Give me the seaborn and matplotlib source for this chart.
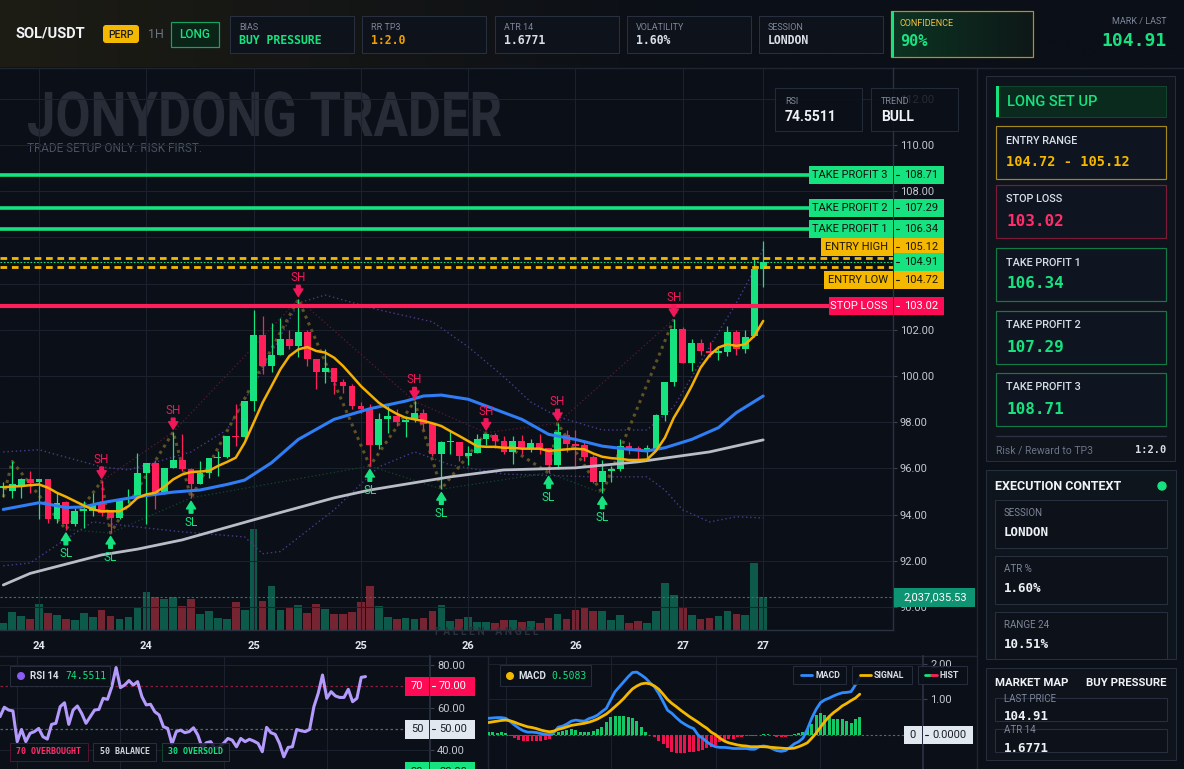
import numpy as np
import pandas as pd
import matplotlib
matplotlib.use("Agg")
import matplotlib.pyplot as plt
import seaborn as sns
from matplotlib.patches import Rectangle, FancyBboxPatch, Circle, PathPatch
from matplotlib.textpath import TextPath
from matplotlib.font_manager import FontProperties
from matplotlib.transforms import Affine2D

W, H, DPI = 1184, 769, 100

# ---------------- data: SOL/USDT 1H candles (oldest first) ----------------
opens = [95.15, 95.02, 95.23, 95.55, 95.42, 95.52, 93.81, 94.55, 93.57, 94.17,
         94.17, 94.55, 94.14, 93.86, 94.65, 94.79, 95.80, 96.24, 94.94, 96.02,
         96.38, 95.98, 95.30, 95.80, 96.45, 96.50, 97.42, 97.35, 98.91, 101.76,
         100.43, 100.90, 101.60, 101.30, 101.88, 100.75, 100.17, 100.36, 99.74, 99.56,
         98.70, 98.55, 97.03, 98.15, 98.26, 98.00, 98.10, 98.40, 97.90, 96.60,
         97.13, 97.15, 96.55, 96.65, 97.25, 97.45, 97.20, 96.70, 97.20, 96.90,
         97.10, 96.90, 96.15, 97.45, 97.05, 97.00, 96.50, 95.40, 95.90, 95.95,
         96.97, 96.85, 96.80, 96.85, 98.30, 99.75, 102.03, 100.56, 101.43, 101.10,
         101.00, 101.05, 101.90, 101.18, 101.73, 104.63]
highs = [95.40, 96.30, 95.60, 95.88, 95.55, 95.55, 94.98, 94.58, 94.29, 94.60,
         94.94, 95.45, 94.16, 94.72, 95.10, 96.67, 96.24, 96.38, 96.02, 97.57,
         97.50, 96.00, 96.30, 96.45, 96.75, 97.42, 98.77, 98.91, 102.86, 102.60,
         102.30, 102.50, 102.00, 103.32, 102.00, 100.75, 101.15, 100.36, 99.85, 99.63,
         98.85, 98.77, 98.41, 98.70, 98.55, 98.26, 98.90, 98.55, 97.90, 97.17,
         97.60, 97.15, 96.95, 97.50, 97.54, 97.52, 97.40, 97.40, 97.45, 97.27,
         97.50, 96.90, 97.95, 97.65, 97.65, 97.20, 96.57, 96.34, 96.10, 97.25,
         97.15, 96.95, 97.00, 98.35, 99.75, 102.45, 102.10, 101.60, 101.60, 101.47,
         101.30, 102.15, 102.00, 102.00, 105.06, 105.84]
lows = [94.75, 94.70, 94.70, 94.94, 93.80, 93.64, 93.64, 93.35, 93.50, 93.40,
        93.93, 93.93, 93.20, 93.80, 94.50, 94.79, 93.57, 94.22, 94.87, 96.02,
        95.90, 94.72, 95.30, 95.60, 95.65, 96.45, 96.96, 97.20, 98.48, 100.07,
        100.17, 100.90, 101.15, 100.82, 100.43, 99.42, 99.71, 99.22, 99.27, 98.55,
        98.40, 96.10, 96.82, 97.54, 97.85, 97.35, 98.00, 97.68, 96.52, 95.10,
        96.60, 96.30, 96.15, 96.65, 97.00, 96.90, 96.60, 96.20, 96.60, 96.70,
        96.60, 95.80, 95.97, 96.70, 96.10, 96.30, 95.35, 94.92, 95.40, 95.90,
        96.60, 96.40, 96.35, 96.85, 98.05, 99.57, 100.56, 100.20, 100.90, 100.80,
        100.70, 100.85, 100.90, 101.00, 101.70, 103.85]
closes = [95.25, 95.30, 95.55, 95.37, 95.52, 93.81, 94.50, 93.57, 94.17, 94.19,
          94.43, 94.07, 93.86, 94.65, 94.72, 95.80, 96.24, 94.94, 96.02, 96.38,
          95.95, 95.30, 95.80, 96.45, 96.50, 97.42, 97.35, 98.91, 101.76, 100.43,
          100.90, 101.60, 101.30, 101.88, 100.75, 100.17, 100.36, 99.74, 99.56, 98.70,
          98.55, 97.03, 98.15, 98.26, 98.00, 98.10, 98.40, 97.90, 96.60, 97.13,
          97.15, 96.55, 96.65, 97.25, 97.50, 97.20, 96.70, 97.20, 96.90, 97.10,
          96.90, 96.15, 97.57, 97.05, 96.98, 96.50, 95.40, 95.90, 95.95, 96.97,
          96.85, 96.80, 96.90, 98.30, 99.75, 102.03, 100.56, 101.43, 101.10, 101.00,
          101.05, 101.90, 101.18, 101.70, 104.63, 104.91]
volume_m = [0.45, 1.13, 0.86, 0.68, 1.60, 1.07, 0.93, 0.68, 0.62, 1.07,
            0.82, 1.25, 0.88, 0.68, 0.82, 1.42, 2.35, 2.04, 1.93, 2.04,
            1.48, 1.93, 1.01, 1.19, 0.74, 0.68, 1.75, 1.25, 6.23, 1.79,
            2.73, 1.25, 1.36, 1.54, 1.07, 1.62, 1.30, 1.01, 1.01, 1.13,
            1.75, 2.73, 1.50, 0.80, 0.68, 0.72, 0.68, 0.74, 1.17, 1.54,
            0.57, 0.68, 0.80, 0.51, 0.49, 0.43, 0.62, 0.62, 0.49, 0.56,
            0.43, 0.74, 0.99, 0.68, 1.23, 1.36, 1.17, 1.17, 0.62, 0.93,
            0.43, 0.56, 0.43, 1.17, 2.90, 2.16, 1.42, 0.93, 0.68, 0.74,
            0.86, 1.17, 0.99, 0.93, 4.13, 2.037]
last_volume = 2037035.53

# moving averages / bands
ema_fast = [95.18, 95.21, 95.23, 95.27, 95.30, 95.16, 94.94, 94.77, 94.58, 94.39,
            94.22, 94.14, 94.14, 94.14, 94.36, 94.72, 94.87, 94.94, 95.20, 95.52,
            95.73, 95.84, 95.86, 95.89, 96.10, 96.27, 96.46, 97.11, 97.97, 98.84,
            99.56, 100.29, 100.86, 101.15, 101.25, 101.08, 101.01, 100.79, 100.43, 100.00,
            99.56, 99.20, 98.84, 98.58, 98.36, 98.19, 98.12, 98.05, 97.95, 97.83,
            97.61, 97.40, 97.18, 96.96, 96.93, 96.93, 96.89, 96.89, 96.85, 96.85,
            96.85, 96.75, 96.79, 96.82, 96.85, 96.82, 96.64, 96.50, 96.44, 96.41,
            96.36, 96.36, 96.38, 96.75, 97.32, 98.19, 98.84, 99.56, 100.36, 100.89,
            101.23, 101.37, 101.30, 101.37, 101.73, 102.38]
ema_mid_idx = [0, 4, 5, 7, 9, 11, 15, 17, 19, 22, 25, 27, 30, 33, 37, 41, 45, 47,
               49, 52, 54, 58, 61, 64, 67, 70, 72, 74, 77, 80, 82, 85]
ema_mid = [94.22, 94.51, 94.45, 94.30, 94.33, 94.51, 94.77, 94.87, 94.97, 95.06,
           95.30, 95.49, 96.24, 97.25, 98.12, 98.58, 98.91, 99.13, 99.17, 98.99,
           98.70, 98.12, 97.47, 97.25, 96.96, 96.82, 96.75, 96.89, 97.25, 97.76,
           98.41, 99.13]
ema_slow_idx = [0, 3, 11, 15, 20, 28, 37, 41, 50, 56, 64, 71, 79, 85]
ema_slow = [90.95, 91.45, 92.25, 92.50, 92.90, 93.77, 94.72, 95.06, 95.63, 95.93,
            96.02, 96.28, 96.71, 97.23]
bb_up_idx = [0, 4, 11, 14, 21, 25, 29, 33, 36, 42, 48, 52, 56, 59, 62, 67, 72, 75,
             79, 82, 84, 85]
bb_up = [96.71, 96.80, 96.06, 95.93, 96.71, 97.66, 100.26, 103.16, 103.50, 102.86,
         102.34, 101.26, 99.96, 98.87, 98.23, 97.66, 97.66, 98.66, 101.26, 103.16,
         104.59, 105.54]
bb_lo_idx = [0, 3, 6, 10, 15, 20, 27, 29, 31, 34, 37, 42, 46, 50, 56, 66, 72, 74,
             76, 79, 82, 85]
bb_lo = [91.78, 91.90, 92.68, 93.68, 93.46, 93.25, 93.03, 92.30, 92.40, 93.30,
         94.20, 96.06, 96.71, 96.15, 95.75, 95.63, 95.63, 95.06, 94.20, 93.68,
         93.90, 93.85]

# swing structure
sh_idx = [11, 19, 33, 46, 54, 62, 75]
sl_idx = [7, 12, 21, 41, 49, 61, 67]
zz_idx = [0, 1, 7, 11, 12, 19, 21, 33, 41, 46, 49, 54, 61, 62, 67, 75]

# oscillators
rsi = [55.8, 60.2, 58.9, 58.5, 44.1, 49.8, 44.1, 48.0, 48.8, 50.3,
       46.4, 45.3, 52.2, 52.7, 60.5, 62.3, 52.2, 58.9, 60.8, 57.3,
       52.7, 55.8, 58.9, 59.2, 64.4, 63.9, 69.8, 78.8, 69.4, 70.6,
       72.7, 70.6, 72.2, 65.2, 61.3, 61.6, 58.1, 56.6, 51.1, 50.3,
       43.0, 48.8, 49.5, 48.3, 48.8, 50.6, 47.2, 41.4, 43.6, 44.1,
       40.9, 41.7, 43.3, 45.6, 44.8, 41.7, 45.6, 44.1, 45.2, 44.4,
       43.3, 39.4, 50.8, 48.3, 47.5, 43.3, 37.0, 41.4, 41.7, 49.8,
       49.2, 48.8, 49.8, 60.5, 66.7, 75.3, 64.4, 67.5, 65.5, 64.8,
       64.8, 68.6, 62.8, 64.4, 74.2, 74.55]
macd = [0.47, 0.48, 0.49, 0.49, 0.47, 0.38, 0.28, 0.19, 0.12, 0.08,
        0.08, 0.07, 0.04, 0.02, 0.01, 0.07, 0.22, 0.25, 0.31, 0.39,
        0.42, 0.40, 0.39, 0.46, 0.50, 0.56, 0.66, 0.75, 0.99, 1.22,
        1.36, 1.50, 1.64, 1.76, 1.77, 1.69, 1.60, 1.47, 1.36, 1.17,
        0.94, 0.70, 0.61, 0.49, 0.38, 0.30, 0.23, 0.18, 0.00, -0.09,
        -0.19, -0.28, -0.33, -0.35, -0.35, -0.36, -0.38, -0.38, -0.38, -0.38,
        -0.40, -0.40, -0.33, -0.31, -0.33, -0.39, -0.44, -0.46, -0.44, -0.35,
        -0.25, -0.19, -0.09, 0.16, 0.47, 0.72, 0.91, 0.99, 1.04, 1.10,
        1.15, 1.19, 1.20, 1.22, 1.41, 1.64]
signal = [0.35, 0.37, 0.39, 0.41, 0.42, 0.40, 0.36, 0.31, 0.27, 0.23,
          0.21, 0.18, 0.14, 0.11, 0.09, 0.11, 0.16, 0.19, 0.23, 0.27,
          0.29, 0.31, 0.33, 0.36, 0.40, 0.45, 0.52, 0.59, 0.69, 0.80,
          0.91, 1.03, 1.17, 1.30, 1.38, 1.44, 1.46, 1.44, 1.38, 1.29,
          1.15, 1.00, 0.89, 0.80, 0.70, 0.61, 0.52, 0.44, 0.36, 0.27,
          0.19, 0.08, 0.01, -0.09, -0.17, -0.22, -0.25, -0.28, -0.30, -0.31,
          -0.33, -0.33, -0.33, -0.33, -0.34, -0.35, -0.36, -0.37, -0.38, -0.38,
          -0.37, -0.33, -0.28, -0.22, -0.09, 0.05, 0.22, 0.38, 0.52, 0.63,
          0.72, 0.82, 0.89, 0.97, 1.04, 1.15]
hist = [0.075, 0.085, 0.066, 0.075, 0.056, -0.03, -0.09, -0.14, -0.17, -0.18,
        -0.18, -0.17, -0.17, -0.14, -0.10, 0.03, 0.09, 0.12, 0.15, 0.16,
        0.14, 0.09, 0.085, 0.09, 0.12, 0.16, 0.22, 0.36, 0.52, 0.54,
        0.54, 0.54, 0.52, 0.47, 0.38, 0.22, 0.09, -0.01, -0.07, -0.16,
        -0.25, -0.38, -0.48, -0.50, -0.50, -0.50, -0.49, -0.47, -0.44, -0.42,
        -0.38, -0.33, -0.29, -0.19, -0.14, -0.12, -0.10, -0.07, -0.05, -0.03,
        -0.03, -0.03, 0.01, 0.02, 0.02, 0.01, -0.07, -0.07, -0.07, -0.03,
        0.02, 0.06, 0.085, 0.17, 0.31, 0.56, 0.61, 0.57, 0.50, 0.46,
        0.45, 0.44, 0.38, 0.35, 0.45, 0.52]
rsi_display = "74.5511"
macd_display = "0.5083"

# trade plan levels
last_price = 104.91
entry_low, entry_high = 104.72, 105.12
stop_loss = 103.02
tp_levels = [106.34, 107.29, 108.71]

price_ticks = [90, 92, 94, 96, 98, 100, 102, 104, 106, 108, 110, 112]
hidden_ticks = [104, 106]          # covered by the level tags
x_tick_idx = [4, 16, 28, 40, 52, 64, 76, 85]
x_tick_labels = ["24", "24", "25", "25", "26", "26", "27", "27"]
osc_grid_idx = [4, 28, 52, 76]

header_cards = [("BIAS", "BUY PRESSURE"), ("RR TP3", "1:2.0"), ("ATR 14", "1.6771"),
                ("VOLATILITY", "1.60%"), ("SESSION", "LONDON")]
confidence = "90%"
exec_rows = [("SESSION", "LONDON"), ("ATR %", "1.60%"), ("RANGE 24", "10.51%")]
market_rows = [("LAST PRICE", "104.91"), ("ATR 14", "1.6771")]
risk_reward = "1:2.0"

# ---------------- style ----------------
BG = "#0b0f17"
CARD = "#0e131c"
BORDER = "#262d3b"
GRID = "#1b212d"
GREEN = "#16e27f"
RED = "#ff1f5a"
YEL = "#f5b800"
TXT = "#d9dee7"
MUTED = "#7d869a"
DARK = "#0c1410"

sns.set_theme(style="dark")
UI = ["Roboto", "DejaVu Sans"]
NARROW = ["Liberation Sans Narrow", "Roboto", "DejaVu Sans"]
MONO = ["DejaVu Sans Mono", "DejaVu Sans"]
plt.rcParams["font.family"] = UI
plt.rcParams["axes.unicode_minus"] = False

fig = plt.figure(figsize=(W / DPI, H / DPI), dpi=DPI)
fig.patch.set_facecolor(BG)


def frac(x0, y0, x1, y1):
    return [x0 / W, 1 - y1 / H, (x1 - x0) / W, (y1 - y0) / H]


def pixel_axes(z):
    a = fig.add_axes([0, 0, 1, 1], zorder=z)
    a.axis("off")
    return a


def fix_pixel(a):
    a.set_xlim(0, W)
    a.set_ylim(H, 0)


# ---------------- background layer ----------------
bg = pixel_axes(0)
g = np.clip(np.linspace(0, 1, 600) * 1.7, 0, 1)
c_left = np.array([29, 28, 20]) / 255
c_right = np.array([11, 15, 23]) / 255
img = c_left[None, :] * (1 - g[:, None]) + c_right[None, :] * g[:, None]
bg.imshow(img[None, :, :], extent=(0, W, 67, 0), aspect="auto", zorder=0)
fix_pixel(bg)
bg.plot([0, W], [67.5, 67.5], color="#1f2531", lw=1)
bg.plot([0, 977], [656, 656], color="#1f2531", lw=1)
bg.plot([977, 977], [68, H], color="#1f2531", lw=1)
bg.plot([488, 488], [656, H], color="#1f2531", lw=1)

# watermark, squeezed to the condensed look of the original
wm = TextPath((0, 0), "JONYDONG TRADER", size=62,
              prop=FontProperties(family=NARROW, weight="bold"))
wm_w = wm.get_extents().width
wm = wm.transformed(Affine2D().scale(473 / wm_w, -1).translate(27, 136))
bg.add_patch(PathPatch(wm, facecolor="#272c37", edgecolor="none", zorder=1))
bg.text(27, 149, "TRADE SETUP ONLY. RISK FIRST.", fontsize=8.5, color="#4a5161",
        family=NARROW, va="center")

# ---------------- main price chart ----------------
df = pd.DataFrame({"o": opens, "h": highs, "l": lows, "c": closes, "v": volume_m})
df["i"] = np.arange(len(df))
df["up"] = df["c"] >= df["o"]
X_LO, X_HI = -0.37, 99.52

vax = fig.add_axes(frac(0, 68, 893, 630), zorder=2)
vax.axis("off")
vax.bar(df["i"], df["v"], width=0.86, linewidth=0,
        color=np.where(df["up"], "#0d5a4a", "#752532"))
vax.axhline(last_volume / 1e6, color="#108a6a", lw=0.8, ls=(0, (2, 2)))
vax.set_xlim(X_LO, X_HI)
vax.set_ylim(0, 34.7)

ax = fig.add_axes(frac(0, 68, 893, 630), zorder=3)
ax.set_facecolor("none")
ax.set_xlim(X_LO, X_HI)
ax.set_ylim(89.0, 113.33)

ccol = np.where(df["up"], GREEN, RED)
ax.vlines(df["i"], df["l"], df["h"], colors=ccol, lw=0.9, zorder=4)
body = (df["c"] - df["o"]).abs().clip(lower=0.06)
ax.bar(df["i"], body, bottom=np.minimum(df["o"], df["c"]), width=0.76,
       color=ccol, linewidth=0, zorder=5)

dot = (0, (1, 2))
sns.lineplot(x=bb_up_idx, y=bb_up, ax=ax, color="#4a3a8e", lw=1.0, linestyle=dot, zorder=3)
sns.lineplot(x=bb_lo_idx, y=bb_lo, ax=ax, color="#4a3a8e", lw=1.0, linestyle=dot, zorder=3)
zz_val = [lows[i] if k % 2 == 0 else highs[i] for k, i in enumerate(zz_idx)]
sns.lineplot(x=zz_idx, y=zz_val, ax=ax, color="#5e5125", lw=2.2,
             linestyle=(0, (1, 1.4)), zorder=3, sort=False)
sns.lineplot(x=sh_idx, y=[highs[i] for i in sh_idx], ax=ax, color="#5a1b31",
             lw=0.9, linestyle=dot, zorder=3)
sns.lineplot(x=sl_idx, y=[lows[i] for i in sl_idx], ax=ax, color="#14452f",
             lw=0.9, linestyle=dot, zorder=3)
sns.lineplot(x=ema_slow_idx, y=ema_slow, ax=ax, color="#b8bdc7", lw=2.0, zorder=6)
sns.lineplot(x=ema_mid_idx, y=ema_mid, ax=ax, color="#2f7ef5", lw=2.2, zorder=6)
sns.lineplot(x=df["i"], y=ema_fast, ax=ax, color="#f3b000", lw=1.8, zorder=6)

# trade levels
for tp in tp_levels:
    ax.axhline(tp, xmin=0, xmax=809 / 893, color=GREEN, lw=2.6, zorder=7)
ax.axhline(stop_loss, xmin=0, xmax=829 / 893, color=RED, lw=3.0, zorder=7)
for lv in (entry_low, entry_high):
    ax.axhline(lv, color=YEL, lw=2.0, dashes=(2.4, 1.7), zorder=7)
ax.axhline(last_price, color=GREEN, lw=0.8, ls=(0, (1.5, 1.5)), zorder=7)

# swing markers
arrow = "simple,head_length=0.45,head_width=0.55,tail_width=0.22"
for i in sh_idx:
    ax.annotate("", xy=(i, highs[i]), xytext=(0, 10), textcoords="offset points",
                arrowprops=dict(arrowstyle=arrow, color="#f0185a", shrinkA=0, shrinkB=2),
                zorder=8)
    ax.annotate("SH", xy=(i, highs[i]), xytext=(0, 15.5), textcoords="offset points",
                ha="center", va="center", color="#f0185a", fontsize=8.5, family=NARROW, zorder=8)
for i in sl_idx:
    ax.annotate("", xy=(i, lows[i]), xytext=(0, -11), textcoords="offset points",
                arrowprops=dict(arrowstyle=arrow, color=GREEN, shrinkA=0, shrinkB=2.5),
                zorder=8)
    ax.annotate("SL", xy=(i, lows[i]), xytext=(0, -17.5), textcoords="offset points",
                ha="center", va="center", color=GREEN, fontsize=8.5, family=NARROW, zorder=8)

ax.set_yticks(price_ticks,
              labels=["" if t in hidden_ticks else f"{t:.2f}" for t in price_ticks])
ax.yaxis.tick_right()
ax.set_xticks(x_tick_idx, labels=x_tick_labels)
ax.tick_params(axis="y", colors="#3a4252", labelcolor="#c3c8d1", labelsize=8,
               length=3, width=0.8, pad=2)
ax.tick_params(axis="x", length=0, labelcolor="#e2e6ed", labelsize=8, pad=8)
for lab in ax.get_xticklabels():
    lab.set_fontweight("bold")
ax.grid(True, color=GRID, lw=0.8)
for s in ("left", "top"):
    ax.spines[s].set_visible(False)
for s in ("right", "bottom"):
    ax.spines[s].set_color("#2a3142")
    ax.spines[s].set_linewidth(1)
ax.set_xlabel("")
ax.set_ylabel("")

# ---------------- RSI panel ----------------
rax = fig.add_axes(frac(0, 656, 430, 769), zorder=3)
rax.set_facecolor("none")
sns.lineplot(x=np.arange(len(rsi)), y=rsi, ax=rax, color="#b39afc", lw=2.2, zorder=4)
rax.axhline(70, color="#8e1a3c", lw=0.9, ls=(0, (2, 2)))
rax.axhline(50, color="#5d6575", lw=0.9, ls=(0, (2, 2)))
rax.set_xlim(0, 100)
rax.set_ylim(31.3, 84.2)
rax.set_yticks([40, 60, 80], labels=["40.00", "60.00", "80.00"])
rax.yaxis.tick_right()
rax.set_xticks(osc_grid_idx, labels=[])

# ---------------- MACD panel ----------------
mx = fig.add_axes(frac(488, 656, 923, 769), zorder=3)
mx.set_facecolor("none")
hx = np.arange(len(hist))
mx.bar(hx, hist, width=0.68, linewidth=0,
       color=np.where(np.array(hist) >= 0, "#14c965", "#f0124f"), zorder=3)
sns.lineplot(x=hx, y=macd, ax=mx, color="#2f8cff", lw=2.0, zorder=4)
sns.lineplot(x=hx, y=signal, ax=mx, color="#f5b800", lw=2.0, zorder=4)
mx.axhline(0, color="#5d6575", lw=0.8, ls=(0, (2, 2)))
mx.set_xlim(-0.07, 99.47)
mx.set_ylim(-0.958, 2.225)
mx.set_yticks([1, 2], labels=["1.00", "2.00"])
mx.yaxis.tick_right()
mx.set_xticks(osc_grid_idx, labels=[])

for a in (rax, mx):
    a.grid(True, color=GRID, lw=0.8)
    a.tick_params(axis="y", colors="#3a4252", labelcolor="#c3c8d1", labelsize=8,
                  length=3, width=0.8, pad=2)
    a.tick_params(axis="x", length=0)
    for s in ("left", "top", "bottom"):
        a.spines[s].set_visible(False)
    a.spines["right"].set_color("#2a3142")
    a.set_xlabel("")
    a.set_ylabel("")

# ---------------- overlay (UI) ----------------
ov = pixel_axes(10)


def py(axis, v):
    return H - axis.transData.transform((0, v))[1]


def box(x0, y0, x1, y1, fc=CARD, ec=BORDER, lw=1.0, alpha=1.0, z=2):
    ov.add_patch(Rectangle((x0, y0), x1 - x0, y1 - y0, facecolor=fc, edgecolor=ec,
                           linewidth=lw * 0.72, alpha=alpha, zorder=z))


def txt(x, y, s, size=8, color=TXT, weight="normal", ha="left", family=None, z=4):
    ov.text(x, y, s, fontsize=size, color=color, fontweight=weight, ha=ha,
            va="center", family=family or UI, zorder=z)


# header
txt(16, 34, "SOL/USDT", size=10.5, weight="bold", color="#f2f4f8")
ov.add_patch(FancyBboxPatch((103, 25), 36, 18, boxstyle="round,pad=0,rounding_size=3",
                            facecolor=YEL, edgecolor="none", zorder=2))
txt(121, 34.5, "PERP", size=7.5, color="#1b1d22", ha="center", weight="medium")
txt(148, 34.5, "1H", size=9, color="#6b7385")
box(171, 22, 219, 47, fc="#0a2418", ec="#16a35f", lw=1.2)
txt(195, 34.5, "LONG", size=8.5, color=GREEN, ha="center", weight="medium")
value_colors = [GREEN, "#f0a000", TXT, TXT, TXT]
for k, ((lab, val), vc) in enumerate(zip(header_cards, value_colors)):
    x0 = 230 + k * 132.3
    box(x0, 16, x0 + 124, 53, fc="#0d121b", ec="#283040")
    txt(x0 + 9, 27, lab, size=6.5, color=MUTED)
    txt(x0 + 9, 41, val, size=8.3, color=vc, weight="bold", family=MONO)
gx = np.linspace(0, 1, 200)
cg = np.array([12, 52, 34]) / 255 * (1 - gx[:, None]) + np.array([14, 24, 24]) / 255 * gx[:, None]
ov.imshow(cg[None, :, :], extent=(891, 1033, 57, 11), aspect="auto", zorder=1)
box(891, 11, 1033, 57, fc="none", ec="#b8901a", lw=1.2)
box(891, 11, 894, 57, fc=GREEN, ec="none")
txt(900, 23, "CONFIDENCE", size=6.5, color="#f3c33c")
txt(900, 41, confidence, size=11, color=GREEN, weight="bold", family=MONO)
txt(1167, 22, "MARK / LAST", size=6.5, color=MUTED, ha="right")
txt(1167, 41, f"{last_price:.2f}", size=13, color=GREEN, weight="bold", family=MONO, ha="right")

txt(487, 632, "F A L L E N    A N G E L", size=7.5, color="#2a303b", ha="center", weight="bold", z=1)

# RSI / TREND chips
for x0, lab, val in [(775, "RSI", rsi_display), (871, "TREND", "BULL")]:
    box(x0, 88, x0 + 87, 131, fc=BG, ec="#283040", alpha=0.85)
    txt(x0 + 10, 101, lab, size=6.5, color=MUTED)
    txt(x0 + 10, 117, val, size=10, weight="bold", color="#eef1f5")


def price_tag(label, value, yc, left, fc, tc):
    if label:
        box(left, yc - 9, 892.5, yc + 9, fc=fc, ec="none", z=5)
        txt(888, yc, label, size=8, color=tc, ha="right", family=NARROW, z=6)
    box(893.5, yc - 9, 944, yc + 9, fc=fc, ec="none", z=5)
    ov.plot([896, 899], [yc, yc], color=tc, lw=0.8, zorder=6)
    txt(904, yc, value, size=8, color=tc, z=6)


tags = [("TAKE PROFIT 3", tp_levels[2], 809, GREEN, DARK, 0),
        ("TAKE PROFIT 2", tp_levels[1], 809, GREEN, DARK, 0),
        ("TAKE PROFIT 1", tp_levels[0], 809, GREEN, DARK, 0),
        ("ENTRY HIGH", entry_high, 821, YEL, "#1d1600", -10.5),
        (None, last_price, 893, GREEN, DARK, 0),
        ("ENTRY LOW", entry_low, 824, YEL, "#1d1600", 13.5),
        ("STOP LOSS", stop_loss, 829, "#ff0a54", "white", 0)]
for lab, val, left, fc, tc, dy in tags:
    price_tag(lab, f"{val:.2f}", py(ax, val) + dy, left, fc, tc)

vy = py(vax, last_volume / 1e6)
box(893.5, vy - 9.5, 975, vy + 9.5, fc="#0e9472", ec="none", z=5)
txt(903, vy, f"{last_volume:,.2f}", size=8, color="white", z=6)

# RSI decorations
box(10, 666, 110, 686, fc=BG, ec="#283040", alpha=0.9)
ov.add_patch(Circle((21, 676), 3.3, color="#8b5cf6", zorder=4))
txt(30, 676, "RSI 14", size=7, weight="bold")
txt(65, 676, rsi_display, size=7, color=GREEN, family=MONO)
for x0, x1, lab, ec, tc in [(10, 88, "70 OVERBOUGHT", "#5a1830", "#ff2d6a"),
                             (93, 156, "50 BALANCE", "#2c3342", "#d0d5de"),
                             (162, 229, "30 OVERSOLD", "#10502f", GREEN)]:
    box(x0, 743, x1, 761, fc=BG, ec=ec, alpha=0.85)
    txt((x0 + x1) / 2, 752, lab, size=6, color=tc, ha="center", family=MONO, weight="bold")
for lv, fc, tc in [(70, "#ff0a54", "white"), (50, "#e1e8f0", "#1a1d24"), (30, GREEN, DARK)]:
    yc = py(rax, lv)
    box(405, yc - 9.5, 429, yc + 9.5, fc=fc, ec="none", z=5)
    box(430, yc - 9.5, 475, yc + 9.5, fc=fc, ec="none", z=5)
    txt(417, yc, f"{lv}", size=8, color=tc, ha="center", z=6)
    ov.plot([432, 435], [yc, yc], color=tc, lw=0.8, zorder=6)
    txt(439, yc, f"{lv:.2f}", size=8, color=tc, z=6)

# MACD decorations
box(500, 665, 591, 686, fc=BG, ec="#283040", alpha=0.9)
ov.add_patch(Circle((510, 676), 3.3, color=YEL, zorder=4))
txt(518, 676, "MACD", size=7, weight="bold")
txt(551, 676, macd_display, size=7, color=GREEN, family=MONO)
for x0, x1, lab, lc in [(793, 846, "MACD", "#2f8cff"), (852, 912, "SIGNAL", YEL),
                        (918, 967, "HIST", None)]:
    box(x0, 666, x1, 684, fc=BG, ec="#283040", alpha=0.9)
    if lc:
        ov.plot([x0 + 8, x0 + 19], [675, 675], color=lc, lw=2, zorder=4)
    else:
        ov.plot([x0 + 7, x0 + 13], [675, 675], color=GREEN, lw=2, zorder=4)
        ov.plot([x0 + 13, x0 + 19], [675, 675], color=RED, lw=2, zorder=4)
    txt(x0 + 22, 675, lab, size=6.3, weight="bold")
yc = py(mx, 0)
box(904, yc - 9, 922, yc + 9, fc="#e1e8f0", ec="none", z=5)
box(923, yc - 9, 973, yc + 9, fc="#e1e8f0", ec="none", z=5)
txt(913, yc, "0", size=8, color="#1a1d24", ha="center", z=6)
ov.plot([925, 928], [yc, yc], color="#1a1d24", lw=0.8, zorder=6)
txt(932, yc, f"{0:.4f}", size=8, color="#1a1d24", z=6)

# right column: long set up
box(986, 76, 1175, 461, fc=CARD, ec=BORDER)
box(996, 86, 1166, 117, fc="#0b2a1e", ec="#12462f")
box(996, 86, 999, 117, fc=GREEN, ec="none", z=3)
txt(1007, 102, "LONG SET UP", size=10.5, color=GREEN, weight="medium")
setup_cards = [("ENTRY RANGE", f"{entry_low:.2f} - {entry_high:.2f}", YEL, "#a3861c", 9.8),
               ("STOP LOSS", f"{stop_loss:.2f}", "#ff2d6a", "#7c1a38", 11.5),
               ("TAKE PROFIT 1", f"{tp_levels[0]:.2f}", GREEN, "#137a47", 11.5),
               ("TAKE PROFIT 2", f"{tp_levels[1]:.2f}", GREEN, "#137a47", 11.5),
               ("TAKE PROFIT 3", f"{tp_levels[2]:.2f}", GREEN, "#137a47", 11.5)]
for (lab, val, vc, ec, vs), y0 in zip(setup_cards, [126, 185, 248, 311, 373]):
    box(996, y0, 1166, y0 + 53, fc="#0e1420", ec=ec, lw=1.2)
    txt(1006, y0 + 14.5, lab, size=7.8, color=TXT, weight="medium")
    txt(1006, y0 + 36, val, size=vs, color=vc, weight="bold", family=MONO)
ov.plot([996, 1166], [436, 436], color="#2a3142", lw=1, zorder=3)
txt(996, 450, "Risk / Reward to TP3", size=7.5, color="#6b7385")
txt(1166, 450, risk_reward, size=7.5, color=TXT, weight="bold", family=MONO, ha="right")

# execution context
box(986, 470, 1176, 659, fc="#0e151c", ec=BORDER)
txt(995, 486, "EXECUTION CONTEXT", size=9, weight="bold", color="#f0f2f6")
ov.add_patch(Circle((1162, 486), 4, color=GREEN, zorder=4))
for (lab, val), y0 in zip(exec_rows, [500, 556, 612]):
    box(995, y0, 1167, min(y0 + 48, 659), fc="#0d121a", ec="#283040")
    txt(1004, y0 + 13, lab, size=7, color=MUTED)
    txt(1004, y0 + 32, val, size=9, weight="bold", family=MONO, color="#eef1f5")

# market map
box(986, 668, 1176, 760, fc=CARD, ec=BORDER)
txt(995, 683, "MARKET MAP", size=8.2, weight="bold", color="#f0f2f6")
txt(1167, 683, "BUY PRESSURE", size=8.2, weight="bold", color="#f0f2f6", ha="right")
for (lab, val), y0 in zip(market_rows, [698, 729]):
    box(995, y0, 1167, y0 + 23, fc="#0d121a", ec="#283040")
    txt(1004, y0 + 1, lab, size=7, color=MUTED)
    txt(1004, y0 + 19, val, size=9, weight="bold", family=MONO, color="#eef1f5")

fix_pixel(ov)
fig.savefig("out.png", dpi=DPI, facecolor=BG)
print("saved out.png")
